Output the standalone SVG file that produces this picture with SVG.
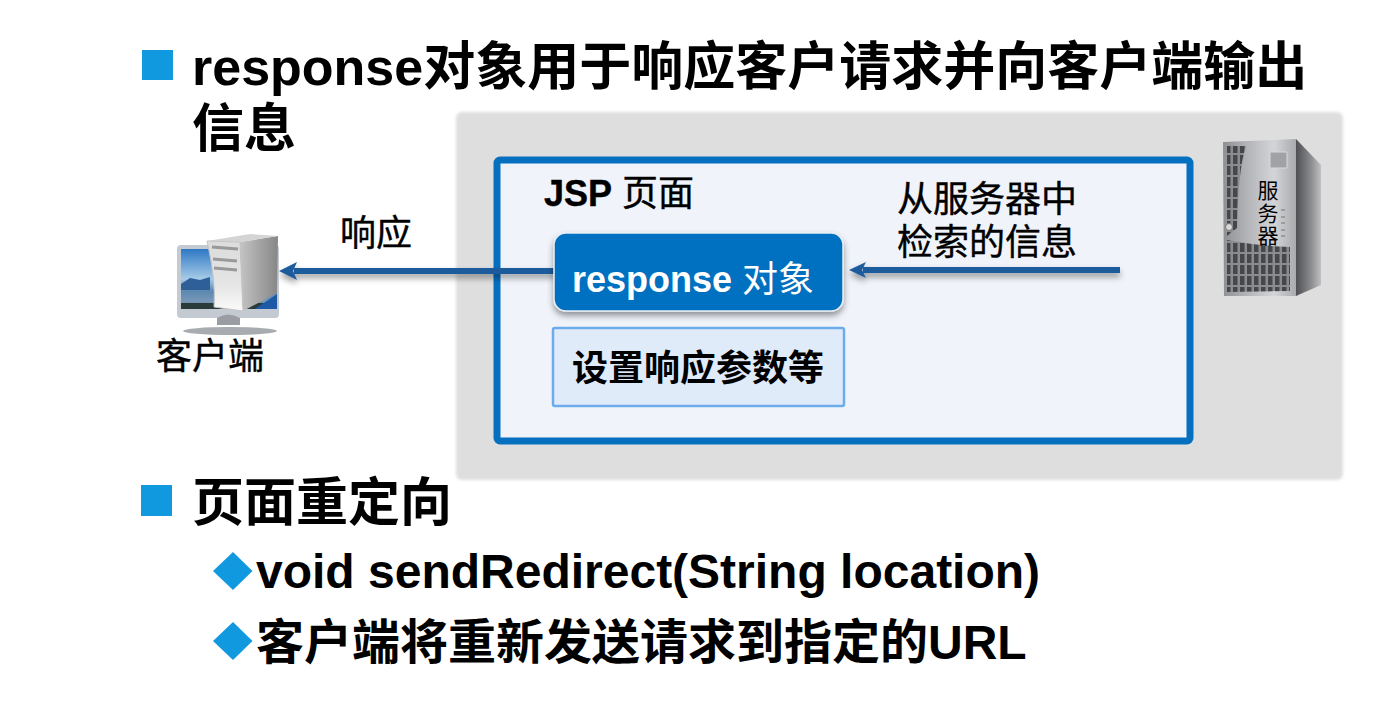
<svg xmlns="http://www.w3.org/2000/svg" width="1396" height="710" viewBox="0 0 1396 710">
<style>
text{font-family:"Liberation Sans","Noto Sans CJK SC",sans-serif;fill:#000}
.h1{font-size:52px;font-weight:bold}
.h2{font-size:48px;font-weight:bold}
.lab{font-size:36px;stroke:#000;stroke-width:.4}
.b{font-weight:bold}
.conn{fill:#1f5c9c}
.mark{fill:#1199e0}
</style>
<defs>
<filter id="sh" filterUnits="userSpaceOnUse" x="0" y="0" width="1396" height="710"><feDropShadow dx="0" dy="4" stdDeviation="3" flood-color="#000" flood-opacity=".4"/></filter>
<filter id="soft" filterUnits="userSpaceOnUse" x="0" y="0" width="1396" height="710"><feGaussianBlur stdDeviation="1.5"/></filter>
<filter id="px" filterUnits="userSpaceOnUse" x="0" y="0" width="1396" height="710"><feGaussianBlur stdDeviation=".5"/></filter>
<linearGradient id="srvF" x1="0" y1="0" x2="1" y2="0"><stop offset="0" stop-color="#8e9094"/><stop offset=".35" stop-color="#b4b6ba"/><stop offset=".7" stop-color="#d4d5d8"/><stop offset="1" stop-color="#a8aaac"/></linearGradient>
<linearGradient id="srvS" x1="0" y1="0" x2="1" y2="0"><stop offset="0" stop-color="#4e4f53"/><stop offset=".6" stop-color="#8c8c8e"/><stop offset="1" stop-color="#c0c0c2"/></linearGradient>
<linearGradient id="twr" x1="0" y1="0" x2="1" y2="0"><stop offset="0" stop-color="#c4c4c4"/><stop offset="1" stop-color="#868686"/></linearGradient>
<linearGradient id="twrF" x1="0" y1="0" x2="0" y2="1"><stop offset="0" stop-color="#dcdcdc"/><stop offset=".6" stop-color="#e4e4e4"/><stop offset="1" stop-color="#fafafa"/></linearGradient>
<linearGradient id="scr" x1="0" y1="0" x2="0" y2="1"><stop offset="0" stop-color="#2f78c4"/><stop offset=".5" stop-color="#a6cbe8"/><stop offset=".7" stop-color="#5c88b0"/><stop offset=".88" stop-color="#7898b8"/><stop offset="1" stop-color="#304c6c"/></linearGradient>
<pattern id="grill" width="7" height="11" patternUnits="userSpaceOnUse"><rect width="7" height="11" fill="#8a8c90"/><rect x="1" y="1" width="4.5" height="9" fill="#45474b"/></pattern>
</defs>

<g id="panel"><rect x="456" y="112" width="887" height="368" rx="6" fill="#dedede" filter="url(#soft)"/></g>

<g id="jsp-page">
<rect x="497" y="160" width="693" height="281" rx="3" fill="#f0f4fa" stroke="#0670c0" stroke-width="7"/>
<text class="lab" x="544" y="206"><tspan class="b">JSP</tspan> 页面</text>
</g>

<g id="connectors">
<g filter="url(#sh)">
<rect class="conn" x="294" y="268" width="262" height="6"/>
<path class="conn" d="M279 271L297 262L293 271L297 280Z"/>
</g>
<g filter="url(#sh)">
<rect class="conn" x="863" y="267" width="257" height="6"/>
<path class="conn" d="M849 270L866 262L862 270L866 278Z"/>
</g>
</g>

<g id="response-object">
<rect x="554" y="233" width="289" height="78" rx="12" fill="#0670c0" stroke="#e8eef4" stroke-width="1.5" filter="url(#sh)"/>
<text x="572" y="292" font-size="36" class="b" style="fill:#fff">response <tspan font-weight="normal">对象</tspan></text>
</g>

<g id="set-params">
<rect x="553" y="328" width="291" height="78" rx="2" fill="#e0ebfa" stroke="#6cacec" stroke-width="2.5"/>
<text x="572" y="381" font-size="36" class="b">设置响应参数等</text>
</g>

<g id="server">
<g filter="url(#px)">
<path d="M1296 139L1321 165V285L1296 296Z" fill="url(#srvS)"/>
<path d="M1223 142L1296 139V296L1224 296Z" fill="url(#srvF)"/>
<path d="M1227 240Q1258 246 1290 247V291L1227 292Z" fill="url(#grill)"/>
<path d="M1227 146H1246Q1238 170 1237 228L1227 236Z" fill="url(#grill)"/>
<circle cx="1229" cy="227" r="3.5" fill="#d8d8d8" stroke="#777"/>
<rect x="1270" y="152" width="17" height="16" rx="1" fill="#a0a2a6" stroke="#d8d8d8"/>
<path d="M1281 210h4M1281 217h4M1281 223h4M1281 230h4M1281 236h4" stroke="#777" stroke-width="1.2"/>
</g>
<text x="1268" y="198" font-size="21" text-anchor="middle">服</text>
<text x="1268" y="220.500" font-size="21" text-anchor="middle">务</text>
<text x="1268" y="243" font-size="21" text-anchor="middle">器</text>
</g>

<g id="client">
<g filter="url(#px)">
<rect x="177" y="245" width="102" height="73" rx="4" fill="#c4cad2"/>
<rect x="181" y="249" width="96" height="60" fill="url(#scr)"/>
<path d="M181 284L190 278L200 280L210 277V290H181Z" fill="#2f5f98"/>
<rect x="181" y="303" width="96" height="6" fill="#2a3a3a"/>
<path d="M277 294L255 309H277Z" fill="#1e5aa8"/>
<path d="M217 325V318Q228 311 240 318V325Z" fill="#9a9ea4"/>
<ellipse cx="230" cy="331" rx="47" ry="4" fill="#a8acb0"/>
<path d="M240 242L278 236L277 293L243 311Z" fill="url(#twr)"/>
<path d="M207 241L250 234L278 236L240 242Z" fill="#d4d4d4"/>
<path d="M207 241L240 242L243 311L214 307Q216 280 207 241Z" fill="url(#twrF)" stroke="#c4c4c4"/>
<path d="M212 247L238 249M213 259L237 261M214 268L237 270" stroke="#999" stroke-width="3" fill="none"/>
</g>
<text class="lab" x="156" y="369">客户端</text>
</g>

<g id="label-response"><text class="lab" x="340" y="246">响应</text></g>
<g id="label-retrieve">
<text class="lab" x="897" y="212">从服务器中</text>
<text class="lab" x="897" y="255">检索的信息</text>
</g>

<g id="heading-1">
<rect class="mark" x="142" y="50" width="31" height="30"/>
<text class="h1" x="192" y="85">response对象用于响应客户请求并向客户端输出</text>
<text class="h1" x="192" y="147">信息</text>
</g>
<g id="heading-2">
<rect class="mark" x="141" y="485" width="31" height="31"/>
<text class="h1" x="192" y="521">页面重定向</text>
</g>
<g id="bullet-1">
<path class="mark" d="M233 552L252.500 571L233 590L213 571Z"/>
<text class="h2" x="256" y="588">void sendRedirect(String location)</text>
</g>
<g id="bullet-2">
<path class="mark" d="M233 622L252.500 641L233 660L213 641Z"/>
<text class="h2" x="256" y="659">客户端将重新发送请求到指定的URL</text>
</g>
</svg>
